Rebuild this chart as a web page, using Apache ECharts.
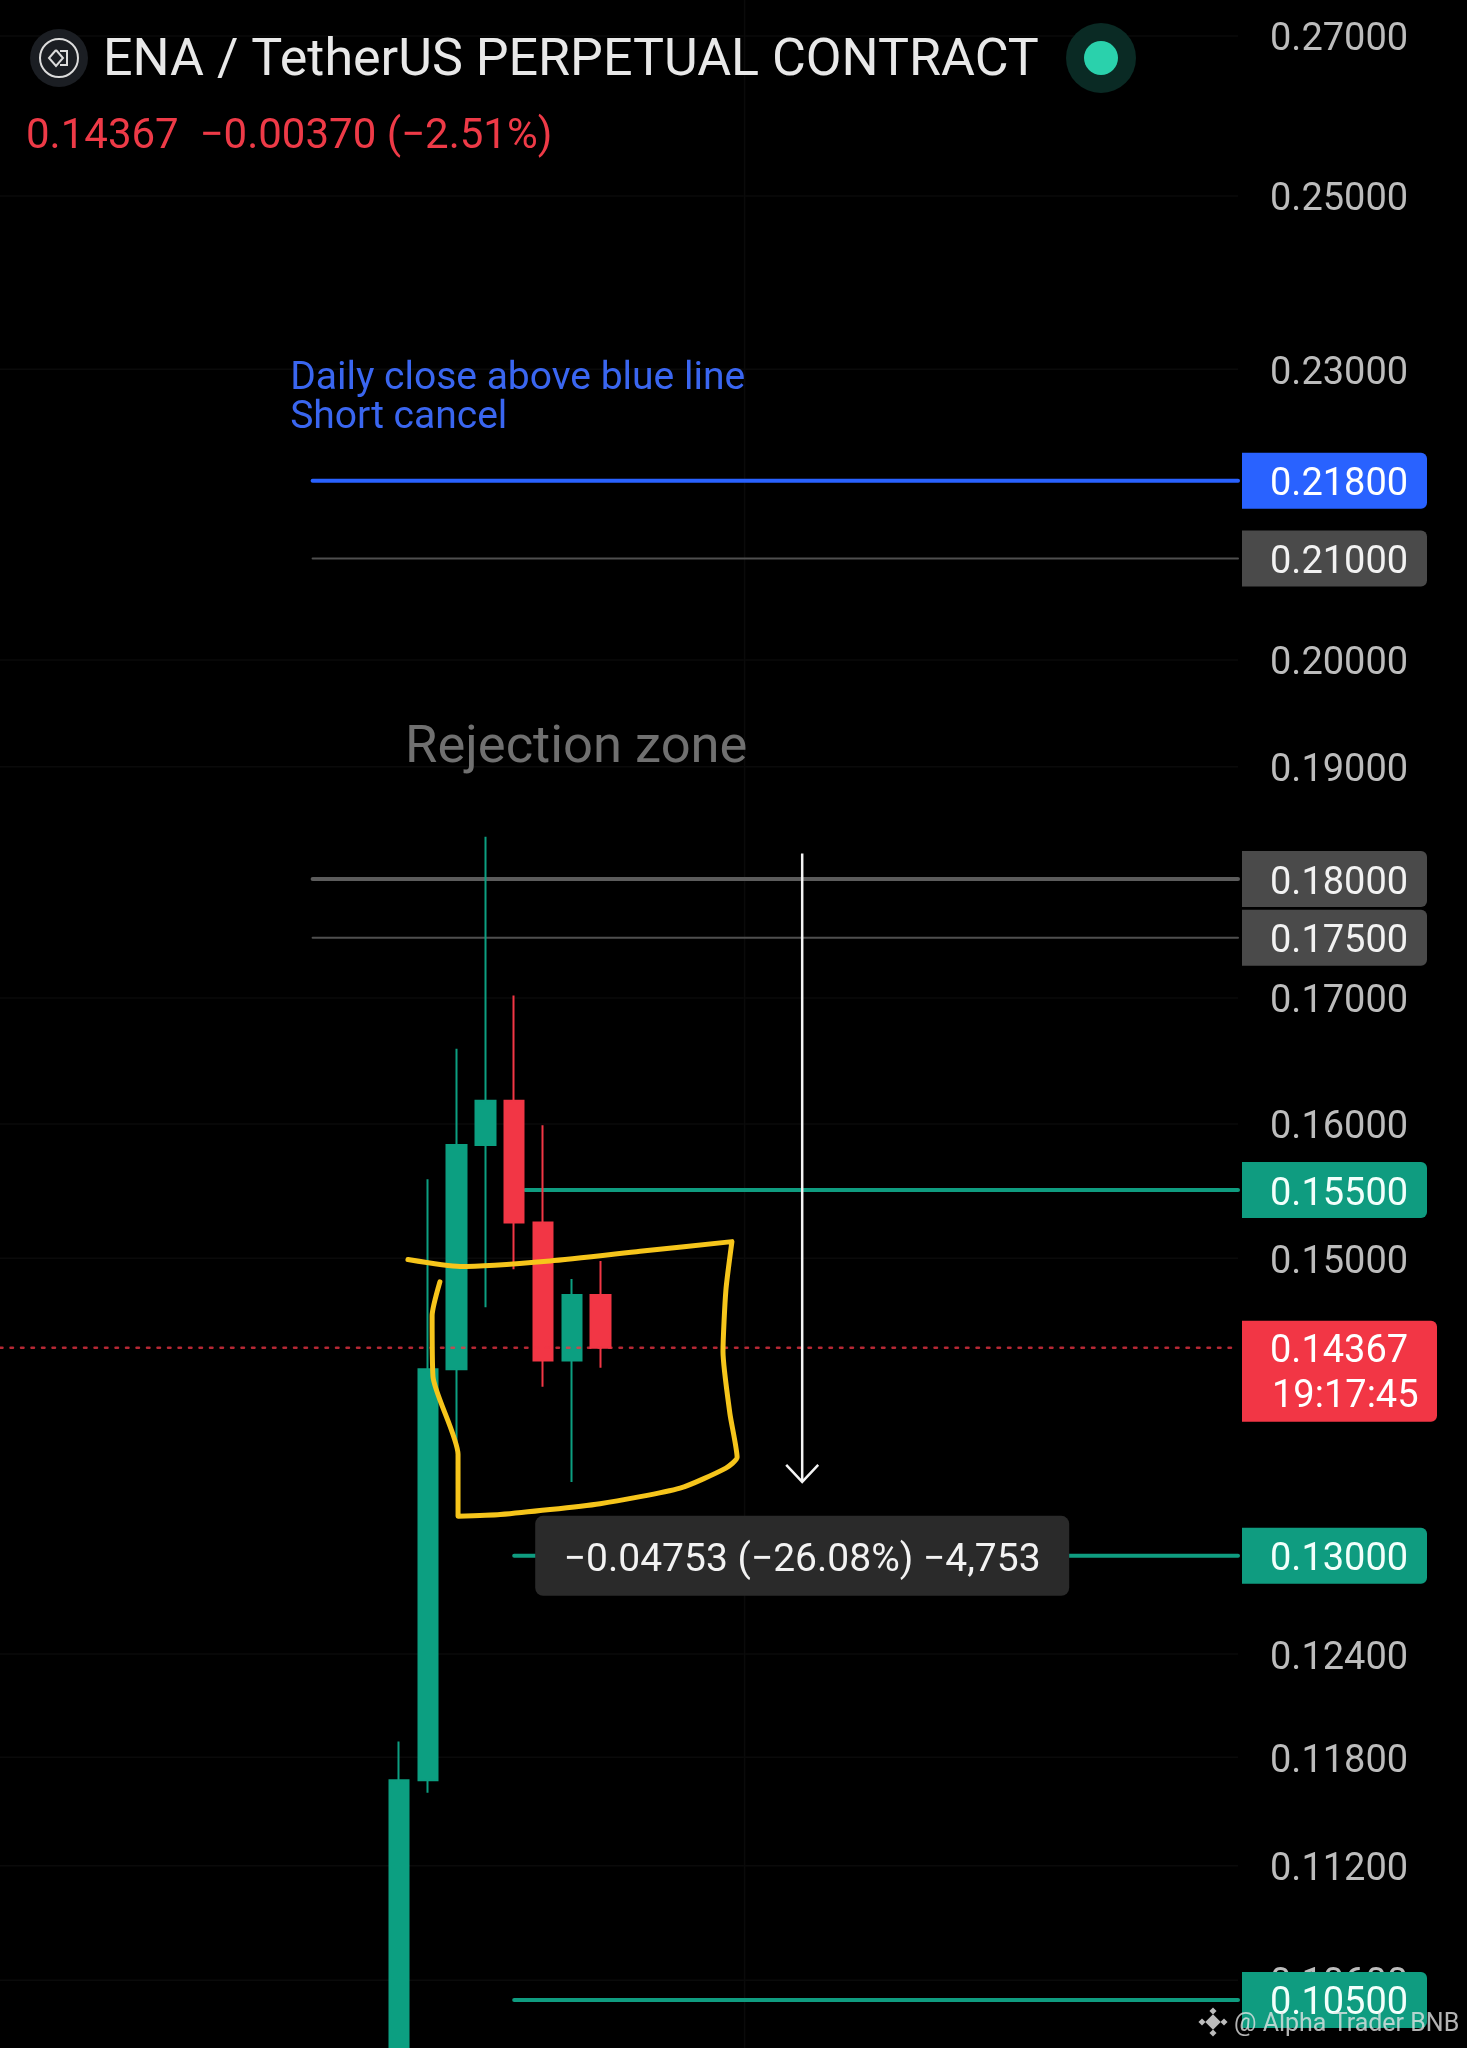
<!DOCTYPE html>
<html>
<head>
<meta charset="utf-8">
<script src="https://cdn.jsdelivr.net/npm/echarts@6/dist/echarts.min.js"></script>
<style>
html, body { margin: 0; padding: 0; background: #000; }
#main { width: 1467px; height: 2048px; }
</style>
</head>
<body>
<div id="main"></div>
<script>
// bars, x = bar index (0 = leftmost visible bar)
var candleX     = [0, 1, 2, 3, 4, 5, 6, 7];
var candleOpen  = [0.0920, 0.1167, 0.1422, 0.1584, 0.1618, 0.1526, 0.1428, 0.14737];
var candleClose = [0.1167, 0.1422, 0.1584, 0.1618, 0.1526, 0.1428, 0.14737, 0.14367];
var candleLow   = [0.0900, 0.1160, 0.1369, 0.1465, 0.1492, 0.1410, 0.1347, 0.1423];
var candleHigh  = [0.1189, 0.1558, 0.1659, 0.1837, 0.1702, 0.1599, 0.1485, 0.1498];

// price scale labels
var tickValues = [0.27, 0.25, 0.23, 0.20, 0.19, 0.17, 0.16, 0.15, 0.124, 0.118, 0.112, 0.106];

// horizontal rays drawn on the chart
var levelValues = [0.218, 0.21, 0.18, 0.175, 0.155, 0.13, 0.105];
var levelStart  = [-3, -3, -3, -3, 4.38, 4, 4];
var levelKind   = ['blue', 'gray', 'grayBold', 'gray', 'green', 'green', 'green'];

var lastPrice = 0.14367;
var lastTime = '19:17:45';
var titleText = 'ENA / TetherUS PERPETUAL CONTRACT';
var changeText = '0.14367  \u22120.00370 (\u22122.51%)';

// price range tool
var measureX = 14;
var measureFrom = 0.18223;
var measureTo = 0.1347;
var measureAt = 0.13;
var measureText = '\u22120.04753 (\u221226.08%) \u22124,753';

// yellow hand drawn box (bar index, price)
var boxX = [0.31, 2.12, 5.24, 8.37, 11.56, 11.35, 11.25, 11.49, 11.74, 11.35, 9.76, 6.98, 3.51, 2.05, 2.05, 1.18, 1.15, 1.42];
var boxY = [0.1499, 0.1494, 0.1498, 0.1505, 0.1512, 0.1477, 0.1434, 0.1392, 0.1363, 0.1356, 0.1343, 0.1333, 0.1326, 0.1325, 0.1365, 0.1417, 0.1459, 0.1483];

// text notes (bar index, price)
var noteText  = ['Daily close above blue line', 'Short cancel', 'Rejection zone'];
var noteX     = [-3.78, -3.78, 0.21];
var noteY     = [0.2295, 0.2252, 0.1922];
var noteKind  = ['blue', 'blue', 'gray'];

var xMin = -13.854, xMax = 29.132;
var yMin = 0.1026, yMax = 0.2747;

var LEVEL_STYLE = {
    blue:     { line: '#2962ff', width: 4, tag: '#2962ff', text: '#ffffff' },
    gray:     { line: '#4f4f4f', width: 2, tag: '#4a4a4a', text: '#f2f2f2' },
    grayBold: { line: '#5c5c5c', width: 4, tag: '#4a4a4a', text: '#f2f2f2' },
    green:    { line: '#0f9c80', width: 4, tag: '#0f9c80', text: '#f2fffb' }
};
var NOTE_STYLE = {
    blue: { fill: '#3a66f0', size: 39 },
    gray: { fill: '#707070', size: 52.5 }
};
var UP = '#0c9f81', DOWN = '#f23645';
var FONT = 'Roboto, "Noto Sans", sans-serif';

// canvas 'middle' sits a little above the cap centre
function dy(size) { return Math.round(size * 0.12); }
function font(size) { return size + 'px ' + FONT; }

var myChart = echarts.init(document.getElementById('main'));

var candles = candleX.map(function (x, i) {
    return [x, candleOpen[i], candleClose[i], candleLow[i], candleHigh[i]];
});

function renderLevel(params, api) {
    var i = params.dataIndex;
    var st = LEVEL_STYLE[levelKind[i]];
    var p = api.coord([api.value(0), api.value(1)]);
    var right = params.coordSys.x + params.coordSys.width;
    return { type: 'line', shape: { x1: p[0], y1: p[1], x2: right, y2: p[1] },
        style: { stroke: st.line, lineWidth: st.width, lineCap: 'round' } };
}

function renderGrid(params, api) {
    var y = api.coord([0, api.value(1)])[1];
    var cs = params.coordSys;
    return { type: 'line', shape: { x1: cs.x, y1: y, x2: cs.x + cs.width, y2: y },
        style: { stroke: '#0a0a0a', lineWidth: 1.5 } };
}

function renderTick(params, api) {
    var y = api.coord([0, api.value(1)])[1];
    return { type: 'text', x: 1270, y: y + dy(38),
        style: { text: api.value(1).toFixed(5), fill: '#bcbcbc', font: font(38), align: 'left', verticalAlign: 'middle' } };
}

function renderTag(params, api) {
    var i = params.dataIndex;
    var st = LEVEL_STYLE[levelKind[i]];
    var y = api.coord([0, api.value(1)])[1];
    return { type: 'group', children: [
        { type: 'rect', shape: { x: 1242, y: y - 28, width: 185, height: 56, r: [0, 6, 6, 0] }, style: { fill: st.tag } },
        { type: 'text', x: 1270, y: y + dy(38), style: { text: api.value(1).toFixed(5), fill: st.text, font: font(38), align: 'left', verticalAlign: 'middle' } }
    ] };
}

function renderLast(params, api) {
    var y = api.coord([0, api.value(1)])[1];
    var cs = params.coordSys;
    return { type: 'group', children: [
        { type: 'line', shape: { x1: cs.x, y1: y, x2: cs.x + cs.width, y2: y },
            style: { stroke: 'rgba(242,54,69,0.75)', lineWidth: 2.5, lineDash: [2.5, 8], lineCap: 'round' } },
        { type: 'rect', shape: { x: 1242, y: y - 27, width: 195, height: 101, r: [0, 6, 6, 0] }, style: { fill: DOWN } },
        { type: 'text', x: 1270, y: y + dy(38), style: { text: api.value(1).toFixed(5), fill: '#ffffff', font: font(38), align: 'left', verticalAlign: 'middle' } },
        { type: 'text', x: 1272, y: y + 45 + dy(38), style: { text: lastTime, fill: '#ffffff', font: font(38), align: 'left', verticalAlign: 'middle' } }
    ] };
}

function renderMeasure(params, api) {
    var top = api.coord([measureX, measureFrom]);
    var bot = api.coord([measureX, measureTo]);
    var lab = api.coord([measureX, measureAt]);
    return { type: 'group', children: [
        { type: 'line', shape: { x1: top[0], y1: top[1], x2: bot[0], y2: bot[1] }, style: { stroke: '#f4f4f4', lineWidth: 2.5 } },
        { type: 'polyline', shape: { points: [[bot[0] - 16, bot[1] - 17], [bot[0], bot[1]], [bot[0] + 16, bot[1] - 17]] },
            style: { stroke: '#f4f4f4', lineWidth: 2.5, fill: 'none' } },
        { type: 'rect', shape: { x: lab[0] - 267, y: lab[1] - 40, width: 534, height: 80, r: 8 }, style: { fill: '#2a2a2a' } },
        { type: 'text', x: lab[0], y: lab[1] + dy(39), style: { text: measureText, fill: '#f2f2f2', font: font(39), align: 'center', verticalAlign: 'middle' } }
    ] };
}

function renderNote(params, api) {
    var i = params.dataIndex;
    var st = NOTE_STYLE[noteKind[i]];
    var p = api.coord([api.value(0), api.value(1)]);
    return { type: 'text', x: p[0], y: p[1] + dy(st.size),
        style: { text: noteText[i], fill: st.fill, font: font(st.size), align: 'left', verticalAlign: 'middle' } };
}

var WM = 'rgba(235,235,235,0.8)';
function wmDiamond(cx, cy, s) {
    return { type: 'rect', shape: { x: cx - s / 2, y: cy - s / 2, width: s, height: s },
        rotation: Math.PI / 4, originX: cx, originY: cy, style: { fill: WM }, z: 50 };
}

var option = {
    backgroundColor: '#000000',
    animation: false,
    grid: { left: 0, right: 229, top: 0, bottom: 0 },
    xAxis: { type: 'value', min: xMin, max: xMax, show: false, splitLine: { show: false } },
    yAxis: { type: 'log', logBase: 10, min: yMin, max: yMax, show: false, splitLine: { show: false } },
    graphic: [
        { type: 'circle', shape: { cx: 59, cy: 58, r: 29 }, style: { fill: '#1b1e23' }, z: 10 },
        { type: 'circle', shape: { cx: 59, cy: 58, r: 19 }, style: { fill: 'none', stroke: '#dcdcdc', lineWidth: 2 }, z: 11 },
        { type: 'polyline', shape: { points: [[56, 50], [49, 58], [56, 66], [63, 58], [56, 50]] }, style: { fill: 'none', stroke: '#dcdcdc', lineWidth: 2 }, z: 11 },
        { type: 'polyline', shape: { points: [[60, 51], [67, 51], [67, 65], [60, 65]] }, style: { fill: 'none', stroke: '#dcdcdc', lineWidth: 2 }, z: 11 },
        { type: 'text', x: 103, y: 56 + dy(52), style: { text: titleText, fill: '#e8e8e8', font: font(52), align: 'left', verticalAlign: 'middle' }, z: 10 },
        { type: 'text', x: 26, y: 132 + dy(42), style: { text: changeText, fill: '#ee3a47', font: font(42), align: 'left', verticalAlign: 'middle' }, z: 10 },
        { type: 'circle', shape: { cx: 1101, cy: 58, r: 35 }, style: { fill: '#0a2a24' }, z: 10 },
        { type: 'circle', shape: { cx: 1101, cy: 58, r: 17 }, style: { fill: '#2ad1ac' }, z: 11 },
        // watermark
        wmDiamond(1213, 2022, 11),
        wmDiamond(1202, 2022, 5),
        wmDiamond(1224, 2022, 5),
        wmDiamond(1213, 2011, 5),
        wmDiamond(1213, 2033, 5),
        { type: 'text', x: 1234, y: 2022 + dy(25), style: { text: '@ Alpha Trader BNB', fill: 'rgba(230,230,230,0.78)', font: font(25), align: 'left', verticalAlign: 'middle' }, z: 50 }
    ],
    series: [
        {
            type: 'custom', name: 'grid', silent: true, z: 0,
            data: tickValues.map(function (v) { return [0, v]; }),
            renderItem: renderGrid
        },
        {
            type: 'custom', name: 'vgrid', silent: true, z: 0,
            data: [[12, yMin]],
            renderItem: function (params, api) {
                var x = api.coord([api.value(0), yMin])[0];
                var cs = params.coordSys;
                return { type: 'line', shape: { x1: x, y1: cs.y, x2: x, y2: cs.y + cs.height }, style: { stroke: '#0a0a0a', lineWidth: 1.5 } };
            }
        },
        {
            type: 'custom', name: 'levels', silent: true, z: 1,
            data: levelValues.map(function (v, i) { return [levelStart[i], v]; }),
            renderItem: renderLevel
        },
        {
            type: 'candlestick', name: 'ENAUSDT', z: 2,
            barWidth: 20,
            data: candles,
            itemStyle: { color: UP, color0: DOWN, borderColor: UP, borderColor0: DOWN, borderWidth: 2 }
        },
        {
            type: 'custom', name: 'last', silent: true, z: 3,
            data: [[0, lastPrice]],
            renderItem: renderLast
        },
        {
            type: 'line', name: 'box', silent: true, z: 4,
            data: boxX.map(function (x, i) { return [x, boxY[i]]; }),
            symbol: 'none', smooth: 0.2,
            lineStyle: { color: '#f6c51b', width: 5, cap: 'round', join: 'round' }
        },
        {
            type: 'custom', name: 'notes', silent: true, z: 4,
            data: noteX.map(function (x, i) { return [x, noteY[i]]; }),
            renderItem: renderNote
        },
        {
            type: 'custom', name: 'measure', silent: true, z: 5,
            data: [[measureX, measureAt]],
            renderItem: renderMeasure
        },
        {
            type: 'custom', name: 'ticks', silent: true, z: 6,
            data: tickValues.map(function (v) { return [0, v]; }),
            renderItem: renderTick
        },
        {
            type: 'custom', name: 'tags', silent: true, z: 7,
            data: levelValues.map(function (v) { return [0, v]; }),
            renderItem: renderTag
        }
    ]
};

myChart.setOption(option);
</script>
</body>
</html>
